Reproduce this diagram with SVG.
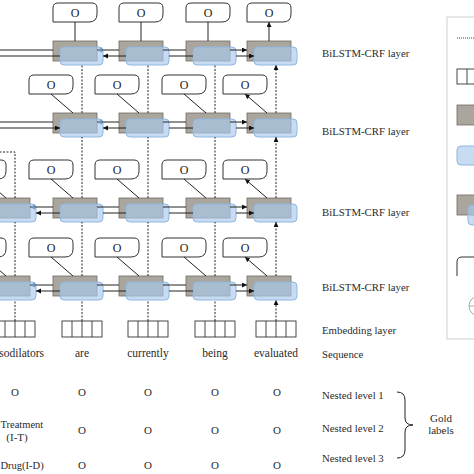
<svg xmlns="http://www.w3.org/2000/svg" width="474" height="474" viewBox="0 0 474 474">
<style>
.g{fill:#aaa69d;stroke:#6f6b64;stroke-width:0.8}
.b{fill:#a9c9ec;fill-opacity:0.65;stroke:#8fb6de;stroke-width:1}
.o{fill:#fff;stroke:#333;stroke-width:1}
.ot{font-family:"Liberation Serif",serif;font-size:12px;fill:#222;text-anchor:middle}
.ln{stroke:#222;stroke-width:1;fill:none}
.dl{stroke:#222;stroke-width:1;fill:none;stroke-dasharray:2 1.5}
.emb{fill:#fff;stroke:#333;stroke-width:0.9}
.lb{font-family:"Liberation Serif",serif;font-size:10.8px;fill:#2a2a2a}
.wd{font-family:"Liberation Serif",serif;font-size:11.5px;fill:#2a2a2a;text-anchor:middle}
.gl{font-family:"Liberation Serif",serif;font-size:11px;fill:#2a2a2a;text-anchor:middle}
.gs{font-family:"Liberation Serif",serif;font-size:10.5px;fill:#2a2a2a}
</style>
<defs>
<marker id="ah" markerUnits="userSpaceOnUse" markerWidth="6" markerHeight="6" refX="5" refY="2.5" orient="auto-start-reverse"><path d="M0,0 L5,2.5 L0,5 z" fill="#111"/></marker>
<marker id="ahb" markerUnits="userSpaceOnUse" markerWidth="6" markerHeight="6" refX="5" refY="2.5" orient="auto-start-reverse"><path d="M0,0 L5,2.5 L0,5 z" fill="#6f93bb"/></marker>
<path id="obox" d="M0,19 L0,5 Q0,0 5,0 L39,0 Q44,0 44,5 L44,11 Q44,19 36,19 Z"/>
<g id="embbox"><rect class="emb" x="0" y="0" width="40" height="16"/><path class="emb" d="M10,0V16M20,0V16M30,0V16"/></g>
</defs>

<!-- Layer 1 -->
<g id="l1c1"><rect class="g" x="53" y="41" width="44" height="20"/><rect class="b" x="60" y="47" width="43" height="18" rx="4"/></g>
<g id="l1c2"><rect class="g" x="119" y="41" width="44" height="20"/><rect class="b" x="126" y="47" width="43" height="18" rx="4"/></g>
<g id="l1c3"><rect class="g" x="186" y="41" width="44" height="20"/><rect class="b" x="193" y="47" width="43" height="18" rx="4"/></g>
<g id="l1c4"><rect class="g" x="247" y="41" width="44" height="20"/><rect class="b" x="254" y="47" width="43" height="18" rx="4"/></g>
<g id="o1c1"><use href="#obox" class="o" x="53" y="3"/><text class="ot" x="75" y="17">O</text></g>
<g id="o1c2"><use href="#obox" class="o" x="119" y="3"/><text class="ot" x="141" y="17">O</text></g>
<g id="o1c3"><use href="#obox" class="o" x="186" y="3"/><text class="ot" x="208" y="17">O</text></g>
<g id="o1c4"><use href="#obox" class="o" x="247" y="3"/><text class="ot" x="269" y="17">O</text></g>

<!-- Layer 2 -->
<g id="l2c1"><rect class="g" x="53" y="113" width="44" height="20"/><rect class="b" x="60" y="119" width="43" height="18" rx="4"/></g>
<g id="l2c2"><rect class="g" x="119" y="113" width="44" height="20"/><rect class="b" x="126" y="119" width="43" height="18" rx="4"/></g>
<g id="l2c3"><rect class="g" x="186" y="113" width="44" height="20"/><rect class="b" x="193" y="119" width="43" height="18" rx="4"/></g>
<g id="l2c4"><rect class="g" x="247" y="113" width="44" height="20"/><rect class="b" x="254" y="119" width="43" height="18" rx="4"/></g>
<g id="o2c1"><use href="#obox" class="o" x="29" y="75"/><text class="ot" x="51" y="89">O</text></g>
<g id="o2c2"><use href="#obox" class="o" x="95" y="75"/><text class="ot" x="117" y="89">O</text></g>
<g id="o2c3"><use href="#obox" class="o" x="162" y="75"/><text class="ot" x="184" y="89">O</text></g>
<g id="o2c4"><use href="#obox" class="o" x="223" y="75"/><text class="ot" x="245" y="89">O</text></g>

<!-- Layer 3 -->
<g id="l3c0"><rect class="g" x="-14" y="198" width="44" height="20"/><rect class="b" x="-7" y="204" width="43" height="18" rx="4"/></g>
<g id="l3c1"><rect class="g" x="53" y="198" width="44" height="20"/><rect class="b" x="60" y="204" width="43" height="18" rx="4"/></g>
<g id="l3c2"><rect class="g" x="119" y="198" width="44" height="20"/><rect class="b" x="126" y="204" width="43" height="18" rx="4"/></g>
<g id="l3c3"><rect class="g" x="186" y="198" width="44" height="20"/><rect class="b" x="193" y="204" width="43" height="18" rx="4"/></g>
<g id="l3c4"><rect class="g" x="247" y="198" width="44" height="20"/><rect class="b" x="254" y="204" width="43" height="18" rx="4"/></g>
<g id="o3c0"><use href="#obox" class="o" x="-38" y="160"/></g>
<g id="o3c1"><use href="#obox" class="o" x="29" y="160"/><text class="ot" x="51" y="174">O</text></g>
<g id="o3c2"><use href="#obox" class="o" x="95" y="160"/><text class="ot" x="117" y="174">O</text></g>
<g id="o3c3"><use href="#obox" class="o" x="162" y="160"/><text class="ot" x="184" y="174">O</text></g>
<g id="o3c4"><use href="#obox" class="o" x="223" y="160"/><text class="ot" x="245" y="174">O</text></g>

<!-- Layer 4 -->
<g id="l4c0"><rect class="g" x="-14" y="276" width="44" height="20"/><rect class="b" x="-7" y="282" width="43" height="18" rx="4"/></g>
<g id="l4c1"><rect class="g" x="53" y="276" width="44" height="20"/><rect class="b" x="60" y="282" width="43" height="18" rx="4"/></g>
<g id="l4c2"><rect class="g" x="119" y="276" width="44" height="20"/><rect class="b" x="126" y="282" width="43" height="18" rx="4"/></g>
<g id="l4c3"><rect class="g" x="186" y="276" width="44" height="20"/><rect class="b" x="193" y="282" width="43" height="18" rx="4"/></g>
<g id="l4c4"><rect class="g" x="247" y="276" width="44" height="20"/><rect class="b" x="254" y="282" width="43" height="18" rx="4"/></g>
<g id="o4c0"><use href="#obox" class="o" x="-38" y="238"/></g>
<g id="o4c1"><use href="#obox" class="o" x="29" y="238"/><text class="ot" x="51" y="252">O</text></g>
<g id="o4c2"><use href="#obox" class="o" x="95" y="238"/><text class="ot" x="117" y="252">O</text></g>
<g id="o4c3"><use href="#obox" class="o" x="162" y="238"/><text class="ot" x="184" y="252">O</text></g>
<g id="o4c4"><use href="#obox" class="o" x="223" y="238"/><text class="ot" x="245" y="252">O</text></g>

<!-- Embedding layer -->
<g id="e0"><use href="#embbox" x="-5" y="321"/></g>
<g id="e1"><use href="#embbox" x="62" y="321"/></g>
<g id="e2"><use href="#embbox" x="128" y="321"/></g>
<g id="e3"><use href="#embbox" x="195" y="321"/></g>
<g id="e4"><use href="#embbox" x="256" y="321"/></g>

<!-- Connectors -->
<g id="connectors">
<path class="ln" marker-end="url(#ah)" d="M75,41V22M141,41V22M208,41V22M269,41V22"/>
<path class="ln" marker-end="url(#ah)" d="M73,113L51,94M139,113L117,94M206,113L184,94M267,113L245,94"/>
<path class="ln" marker-end="url(#ah)" d="M6,198L-16,179M73,198L51,179M139,198L117,179M206,198L184,179M267,198L245,179"/>
<path class="ln" marker-end="url(#ah)" d="M6,276L-16,257M73,276L51,257M139,276L117,257M206,276L184,257M267,276L245,257"/>
<path class="ln" marker-end="url(#ah)" d="M0,50H53M0,56H60M0,122H53M0,128H60"/>
<path class="ln" marker-start="url(#ahb)" marker-end="url(#ah)" d="M97,50H119M163,50H186M230,50H247"/>
<path class="ln" marker-start="url(#ahb)" marker-end="url(#ah)" d="M97,122H119M163,122H186M230,122H247"/>
<path class="ln" marker-start="url(#ahb)" marker-end="url(#ah)" d="M30,207H53M97,207H119M163,207H186M230,207H247"/>
<path class="ln" marker-start="url(#ahb)" marker-end="url(#ah)" d="M30,285H53M97,285H119M163,285H186M230,285H247"/>
<path class="ln" marker-start="url(#ah)" marker-end="url(#ah)" d="M103,56H126M169,56H193M236,56H254"/>
<path class="ln" marker-start="url(#ah)" marker-end="url(#ah)" d="M103,128H126M169,128H193M236,128H254"/>
<path class="ln" marker-start="url(#ah)" marker-end="url(#ah)" d="M36,213H60M103,213H126M169,213H193M236,213H254"/>
<path class="ln" marker-start="url(#ah)" marker-end="url(#ah)" d="M36,291H60M103,291H126M169,291H193M236,291H254"/>
<path class="dl" marker-end="url(#ah)" d="M15,321V300M82,321V300M148,321V300M215,321V300M276,321V300"/>
<path class="dl" marker-end="url(#ah)" d="M15,276V222M82,276V222M148,276V222M215,276V222M276,276V222"/>
<path class="dl" marker-end="url(#ah)" d="M82,198V137M148,198V137M215,198V137M276,198V137"/>
<path class="dl" marker-end="url(#ah)" d="M82,113V65M148,113V65M215,113V65M276,113V65"/>
<path class="dl" d="M15,198V152H0"/>
<path class="ln" d="M397,392 Q405,392 405,400 L405,418 Q405,425 413,425 Q405,425 405,432 L405,450 Q405,458 397,458"/>
</g>

<!-- Sequence words -->
<text class="wd" x="44" y="357" style="text-anchor:end">sodilators</text>
<text class="wd" x="82" y="357">are</text>
<text class="wd" x="148" y="357">currently</text>
<text class="wd" x="215" y="357">being</text>
<text class="wd" x="276" y="357">evaluated</text>

<!-- Gold label rows -->
<text class="gl" x="15" y="396">O</text>
<text class="gl" x="82" y="396">O</text>
<text class="gl" x="148" y="396">O</text>
<text class="gl" x="215" y="396">O</text>
<text class="gl" x="277" y="396">O</text>
<text class="gs" x="0.5" y="428">Treatment</text>
<text class="gl" x="17" y="441">(I-T)</text>
<text class="gl" x="82" y="434">O</text>
<text class="gl" x="148" y="434">O</text>
<text class="gl" x="215" y="434">O</text>
<text class="gl" x="277" y="434">O</text>
<text class="gs" x="0.5" y="469">Drug(I-D)</text>
<text class="gl" x="82" y="469">O</text>
<text class="gl" x="148" y="469">O</text>
<text class="gl" x="215" y="469">O</text>
<text class="gl" x="277" y="469">O</text>

<!-- Right labels -->
<text class="lb" x="322" y="57">BiLSTM-CRF layer</text>
<text class="lb" x="322" y="135">BiLSTM-CRF layer</text>
<text class="lb" x="322" y="216">BiLSTM-CRF layer</text>
<text class="lb" x="322" y="291">BiLSTM-CRF layer</text>
<text class="lb" x="322" y="334">Embedding layer</text>
<text class="lb" x="322" y="358">Sequence</text>
<text class="lb" x="322" y="399">Nested level 1</text>
<text class="lb" x="322" y="432">Nested level 2</text>
<text class="lb" x="322" y="462">Nested level 3</text>
<text class="gl" x="441" y="422">Gold</text>
<text class="gl" x="441" y="434">labels</text>

<!-- Legend -->
<g id="legend">
<rect x="447" y="17" width="40" height="322" fill="none" stroke="#cfcfcf" stroke-width="1"/>
<path d="M457,38H480" stroke="#444" stroke-width="1" stroke-dasharray="1 1"/>
<rect class="emb" x="457" y="69" width="20" height="15"/><path class="emb" d="M467,69V84"/>
<rect class="g" x="457" y="105" width="30" height="20"/>
<rect class="b" x="457" y="146" width="30" height="19" rx="4"/>
<rect class="g" x="457" y="195" width="30" height="20"/>
<rect class="b" x="468" y="205" width="30" height="20" rx="4"/>
<path class="o" d="M457,276 L457,262 Q457,257 462,257 L480,257"/>
<circle cx="479" cy="306" r="10" fill="none" stroke="#aaa" stroke-width="1"/>
<path d="M469,306H480" stroke="#aaa" stroke-width="1"/>
</g>
</svg>
